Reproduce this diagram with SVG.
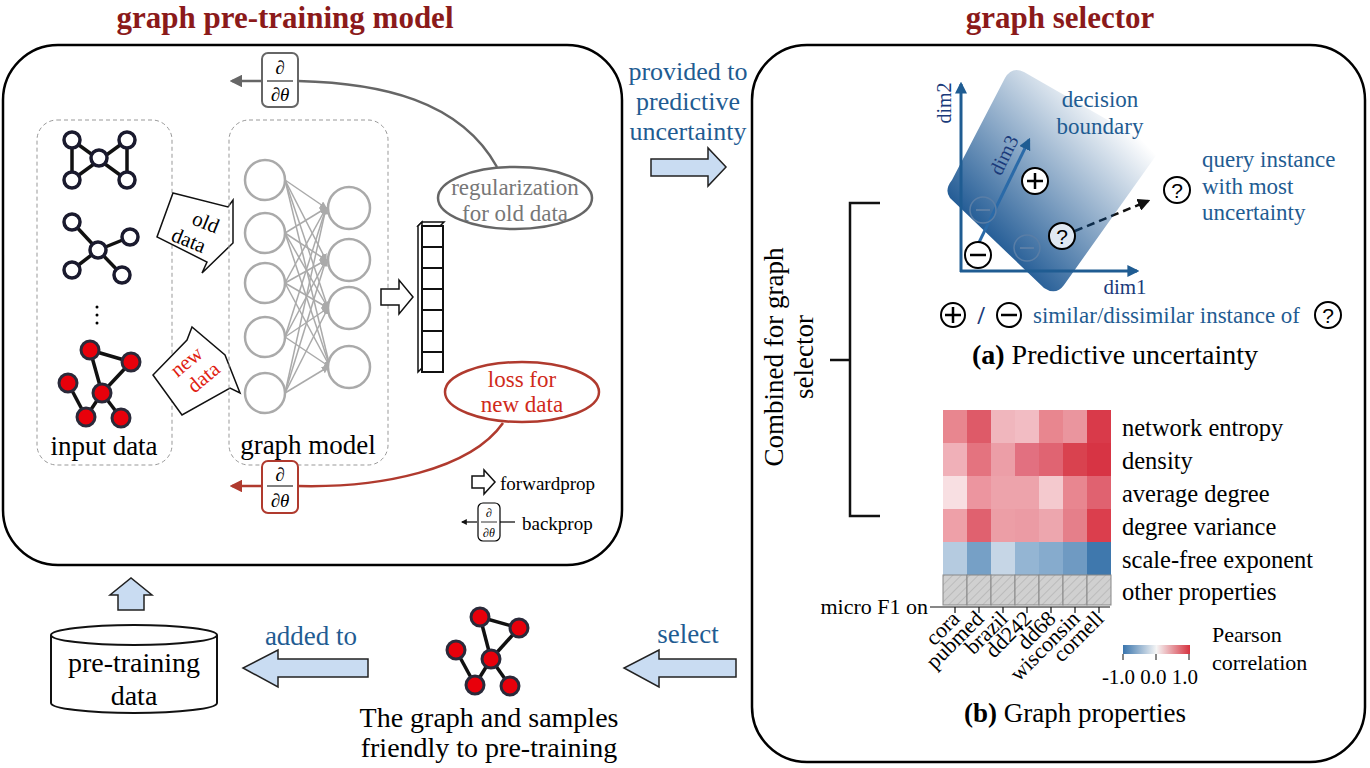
<svg xmlns="http://www.w3.org/2000/svg" width="1370" height="768" viewBox="0 0 1370 768" font-family="'Liberation Serif','Times New Roman',serif">
<defs>
<style>
text{font-family:"Liberation Serif","Times New Roman",serif}
.t{font-size:31px;font-weight:bold;fill:#8b1a1a;text-anchor:middle}
.b{fill:#1f5c92}
.nk{fill:#fff;stroke:#1a1a2e;stroke-width:3.5}
.nr{fill:#e8000b;stroke:#2a2a3a;stroke-width:3}
.ek{stroke:#111;stroke-width:3.5}
.nn{fill:#fff;stroke:#aaa;stroke-width:2.5}
.la{fill:#c9dcf2;stroke:#222;stroke-width:1.5}
.cell{stroke:#111;stroke-width:2;fill:#fff}
.sm{fill:#fff;stroke:#000;stroke-width:2}
.q{font-family:"Liberation Sans",Arial,sans-serif;font-size:21px;text-anchor:middle}
</style>
<marker id="ag" viewBox="0 0 10 10" refX="8" refY="5" markerWidth="5" markerHeight="5" orient="auto"><path d="M0,0L10,5L0,10z" fill="#aaa"/></marker>
<marker id="agd" viewBox="0 0 10 10" refX="8" refY="5" markerWidth="5" markerHeight="5" orient="auto"><path d="M0,0L10,5L0,10z" fill="#666"/></marker>
<marker id="ar" viewBox="0 0 10 10" refX="8" refY="5" markerWidth="5" markerHeight="5" orient="auto"><path d="M0,0L10,5L0,10z" fill="#b03a2e"/></marker>
<marker id="ak" viewBox="0 0 10 10" refX="8" refY="5" markerWidth="5" markerHeight="5" orient="auto"><path d="M0,0L10,5L0,10z" fill="#111"/></marker>
<marker id="ab" viewBox="0 0 10 10" refX="8" refY="5" markerWidth="4" markerHeight="4" orient="auto"><path d="M0,0L10,5L0,10z" fill="#1f5c92"/></marker>
<linearGradient id="dg" x1="0" y1="1" x2="1" y2="0"><stop offset="0.15" stop-color="#0b4a8a"/><stop offset="0.8" stop-color="#0b4a8a" stop-opacity="0"/></linearGradient>
<linearGradient id="cb"><stop offset="0" stop-color="#3a75ad"/><stop offset="0.5" stop-color="#f5f5f5"/><stop offset="1" stop-color="#d6323f"/></linearGradient>
<pattern id="hat" width="6" height="6" patternUnits="userSpaceOnUse" patternTransform="rotate(45)"><rect width="6" height="6" fill="#d0d0d0"/><line x1="0" y1="0" x2="0" y2="6" stroke="#bbb" stroke-width="2"/></pattern>
</defs>

<text class="t" x="285" y="28">graph pre-training model</text>
<text class="t" x="1060" y="28">graph selector</text>

<g id="panel-left"><rect x="3" y="45" width="619" height="520" rx="55" fill="none" stroke="#000" stroke-width="2.5"/></g>
<g id="panel-right"><rect x="752" y="45" width="613" height="717" rx="55" fill="none" stroke="#000" stroke-width="2.5"/></g>

<g id="input-data">
<rect x="37" y="120" width="135" height="345" rx="20" fill="none" stroke="#999" stroke-dasharray="4,3"/>
<line class="ek" x1="72" y1="140" x2="72" y2="180"/><line class="ek" x1="127" y1="140" x2="127" y2="180"/>
<line class="ek" x1="72" y1="140" x2="127" y2="180"/><line class="ek" x1="127" y1="140" x2="72" y2="180"/>
<circle class="nk" cx="72" cy="140" r="8"/><circle class="nk" cx="127" cy="140" r="8"/><circle class="nk" cx="99" cy="158" r="8"/><circle class="nk" cx="72" cy="180" r="8"/><circle class="nk" cx="127" cy="180" r="8"/>
<line class="ek" x1="98" y1="250" x2="72" y2="222"/><line class="ek" x1="98" y1="250" x2="130" y2="237"/><line class="ek" x1="98" y1="250" x2="72" y2="270"/><line class="ek" x1="98" y1="250" x2="122" y2="275"/>
<circle class="nk" cx="72" cy="222" r="8"/><circle class="nk" cx="130" cy="237" r="8"/><circle class="nk" cx="98" cy="250" r="8"/><circle class="nk" cx="72" cy="270" r="8"/><circle class="nk" cx="122" cy="275" r="8"/>
<circle cx="97" cy="307" r="1.5"/><circle cx="97" cy="315" r="1.5"/><circle cx="97" cy="323" r="1.5"/>
<g class="ek"><line x1="90" y1="350" x2="131" y2="362"/><line x1="90" y1="350" x2="102" y2="393"/><line x1="131" y1="362" x2="102" y2="393"/><line x1="68" y1="383" x2="86" y2="417"/><line x1="86" y1="417" x2="102" y2="393"/><line x1="102" y1="393" x2="121" y2="418"/></g>
<circle class="nr" cx="90" cy="350" r="9"/><circle class="nr" cx="131" cy="362" r="9"/><circle class="nr" cx="68" cy="383" r="9"/><circle class="nr" cx="102" cy="393" r="9"/><circle class="nr" cx="86" cy="417" r="9"/><circle class="nr" cx="121" cy="418" r="9"/>
<text x="104" y="455" font-size="27" text-anchor="middle">input data</text>
</g>

<g id="data-arrows">
<polygon points="173,193 228,207 233,200 233,243 202,273 207,262 157,237" fill="#fff" stroke="#111" stroke-width="1.5"/>
<text font-size="21" text-anchor="middle" transform="rotate(22 195 233)"><tspan x="201" y="226">old</tspan><tspan x="192" y="249">data</tspan></text>
<polygon points="153,375 187,340 192,327 225,355 240,393 230,388 182,415" fill="#fff" stroke="#111" stroke-width="1.5"/>
<text font-size="21" fill="#e02010" text-anchor="middle" transform="rotate(-40 196 373)"><tspan x="196" y="365">new</tspan><tspan x="199" y="388">data</tspan></text>
</g>

<g id="graph-model">
<rect x="229" y="120" width="159" height="345" rx="20" fill="none" stroke="#999" stroke-dasharray="4,3"/>
<g stroke="#aaa" stroke-width="1.5" marker-end="url(#ag)">
<line x1="285" y1="180" x2="326" y2="208"/><line x1="285" y1="180" x2="326" y2="260"/><line x1="285" y1="180" x2="328" y2="308"/><line x1="285" y1="180" x2="330" y2="367"/>
<line x1="285" y1="233" x2="326" y2="208"/><line x1="285" y1="233" x2="326" y2="260"/><line x1="285" y1="233" x2="328" y2="308"/><line x1="285" y1="233" x2="330" y2="367"/>
<line x1="285" y1="283" x2="326" y2="208"/><line x1="285" y1="283" x2="326" y2="260"/><line x1="285" y1="283" x2="328" y2="308"/><line x1="285" y1="283" x2="330" y2="367"/>
<line x1="285" y1="337" x2="326" y2="208"/><line x1="285" y1="337" x2="326" y2="260"/><line x1="285" y1="337" x2="328" y2="308"/><line x1="285" y1="337" x2="330" y2="367"/>
<line x1="285" y1="393" x2="326" y2="208"/><line x1="285" y1="393" x2="326" y2="260"/><line x1="285" y1="393" x2="328" y2="308"/><line x1="285" y1="393" x2="328" y2="367"/>
</g>
<circle class="nn" cx="265" cy="180" r="20"/><circle class="nn" cx="265" cy="233" r="20"/><circle class="nn" cx="265" cy="283" r="20"/><circle class="nn" cx="265" cy="337" r="20"/><circle class="nn" cx="265" cy="393" r="20"/>
<circle class="nn" cx="349" cy="208" r="21"/><circle class="nn" cx="349" cy="260" r="21"/><circle class="nn" cx="349" cy="308" r="21"/><circle class="nn" cx="349" cy="367" r="21"/>
<text x="308" y="454" font-size="27" text-anchor="middle">graph model</text>
</g>

<g id="output-vector">
<polygon points="381,289 399,289 399,280 413,297 399,314 399,305 381,305" fill="#fff" stroke="#111" stroke-width="1.5"/>
<polygon points="418,226 422,222 444,222 440,226" fill="#fff" stroke="#111" stroke-width="1.5"/>
<polygon points="418,226 422,222 422,368 418,372" fill="#fff" stroke="#111" stroke-width="1.5"/>
<rect class="cell" x="422" y="226" width="21" height="21"/><rect class="cell" x="422" y="247" width="21" height="21"/><rect class="cell" x="422" y="268" width="21" height="21"/><rect class="cell" x="422" y="289" width="21" height="21"/><rect class="cell" x="422" y="310" width="21" height="21"/><rect class="cell" x="422" y="331" width="21" height="21"/><rect class="cell" x="422" y="352" width="21" height="20"/>
</g>

<g id="connectors">
<path d="M497,167 C460,100 380,83 298,81" fill="none" stroke="#666" stroke-width="2.5"/>
<line x1="262" y1="81" x2="232" y2="81" stroke="#666" stroke-width="2.5" marker-end="url(#agd)"/>
<path d="M503,423 C470,470 380,488 298,486" fill="none" stroke="#b03a2e" stroke-width="2.5"/>
<line x1="262" y1="486" x2="232" y2="486" stroke="#b03a2e" stroke-width="2.5" marker-end="url(#ar)"/>
<path d="M1075,231 L1148,201" fill="none" stroke="#111" stroke-width="2.5" stroke-dasharray="8,5" marker-end="url(#ak)"/>
</g>

<g id="grad-old">
<rect x="262" y="53" width="36" height="54" rx="6" fill="#fff" stroke="#666" stroke-width="2"/>
<text x="280" y="74" font-size="19" text-anchor="middle" font-style="italic">∂</text>
<line x1="267" y1="81" x2="293" y2="81" stroke="#000" stroke-width="1"/>
<text x="280" y="101" font-size="19" text-anchor="middle" font-style="italic">∂θ</text>
</g>
<g id="grad-new">
<rect x="262" y="461" width="36" height="52" rx="6" fill="#fff" stroke="#b03a2e" stroke-width="2"/>
<text x="280" y="481" font-size="19" text-anchor="middle" font-style="italic">∂</text>
<line x1="267" y1="486" x2="293" y2="486" stroke="#000" stroke-width="1"/>
<text x="280" y="507" font-size="19" text-anchor="middle" font-style="italic">∂θ</text>
</g>

<g id="regularization">
<ellipse cx="515" cy="198" rx="77" ry="31" fill="#fff" stroke="#666" stroke-width="2.5"/>
<text x="515" y="195" font-size="23" fill="#777" text-anchor="middle">regularization</text>
<text x="515" y="221" font-size="23" fill="#777" text-anchor="middle">for old data</text>
</g>
<g id="loss">
<ellipse cx="522" cy="392" rx="77" ry="30" fill="#fff" stroke="#b03a2e" stroke-width="2.5"/>
<text x="522" y="387" font-size="23" fill="#d02a1a" text-anchor="middle">loss for</text>
<text x="522" y="412" font-size="23" fill="#d02a1a" text-anchor="middle">new data</text>
</g>

<g id="legend">
<polygon points="472,476 484,476 484,470 495,482 484,494 484,488 472,488" fill="#fff" stroke="#111" stroke-width="1.5"/>
<text x="500" y="490" font-size="19">forwardprop</text>
<line x1="500" y1="522" x2="515" y2="522" stroke="#000" stroke-width="1.2"/>
<line x1="477" y1="522" x2="462" y2="522" stroke="#000" stroke-width="1.2" marker-end="url(#ak)"/>
<rect x="478" y="503" width="22" height="38" rx="5" fill="#fff" stroke="#000" stroke-width="1.2"/>
<text x="489" y="517" font-size="12" text-anchor="middle" font-style="italic">∂</text>
<line x1="481" y1="522" x2="497" y2="522" stroke="#000" stroke-width="0.8"/>
<text x="489" y="537" font-size="12" text-anchor="middle" font-style="italic">∂θ</text>
<text x="522" y="530" font-size="19">backprop</text>
</g>

<g id="provided-to">
<text x="688" y="80" font-size="26" class="b" text-anchor="middle">provided to</text>
<text x="688" y="110" font-size="26" class="b" text-anchor="middle">predictive</text>
<text x="688" y="140" font-size="26" class="b" text-anchor="middle">uncertainty</text>
<polygon points="651,159 708,159 708,148 726,167 708,186 708,176 651,176" class="la"/>
</g>

<g id="pretraining-data">
<polygon points="118,610 118,595 110,595 131,578 152,595 144,595 144,610" class="la"/>
<path d="M51,635 L51,703 A83,10 0 0 0 217,703 L217,635" fill="#fff" stroke="#111" stroke-width="2"/>
<ellipse cx="134" cy="635" rx="83" ry="10" fill="#fff" stroke="#111" stroke-width="2"/>
<text x="134" y="672" font-size="28" text-anchor="middle">pre-training</text>
<text x="134" y="705" font-size="28" text-anchor="middle">data</text>
</g>

<g id="added-to">
<text x="311" y="645" font-size="27" class="b" text-anchor="middle">added to</text>
<polygon points="368,659 278,659 278,650 243,668 278,687 278,677 368,677" class="la"/>
</g>

<g id="selected-graph">
<g class="ek"><line x1="480" y1="617" x2="519" y2="628"/><line x1="480" y1="617" x2="491" y2="659"/><line x1="519" y1="628" x2="491" y2="659"/><line x1="456" y1="650" x2="475" y2="685"/><line x1="475" y1="685" x2="491" y2="659"/><line x1="491" y1="659" x2="510" y2="686"/></g>
<circle class="nr" cx="480" cy="617" r="9"/><circle class="nr" cx="519" cy="628" r="9"/><circle class="nr" cx="456" cy="650" r="9"/><circle class="nr" cx="491" cy="659" r="9"/><circle class="nr" cx="475" cy="685" r="9"/><circle class="nr" cx="510" cy="686" r="9"/>
</g>
<text x="489" y="727" font-size="28" text-anchor="middle">The graph and samples</text>
<text x="489" y="757" font-size="28" text-anchor="middle">friendly to pre-training</text>

<g id="select">
<text x="688" y="643" font-size="27" class="b" text-anchor="middle">select</text>
<polygon points="736,659 659,659 659,650 624,668 659,687 659,677 736,677" class="la"/>
</g>

<g id="combined">
<text transform="translate(783,357) rotate(-90)" font-size="27" text-anchor="middle">Combined for graph</text>
<text transform="translate(813,357) rotate(-90)" font-size="27" text-anchor="middle">selector</text>
<path d="M880,203 L850,203 L850,516 L880,516 M850,360 L830,360" fill="none" stroke="#111" stroke-width="2.5"/>
</g>

<g id="uncertainty-plot">
<path d="M952,180 L1005,78 Q1012,66 1024,72 L1160,150 L1064,285 Q1056,296 1044,288 L950,198 Q944,190 952,180z" fill="url(#dg)"/>
<line x1="961" y1="272" x2="961" y2="84" stroke="#1f5c92" stroke-width="3" marker-end="url(#ab)"/>
<line x1="960" y1="271" x2="1137" y2="271" stroke="#1f5c92" stroke-width="3" marker-end="url(#ab)"/>
<line x1="968" y1="265" x2="1029" y2="140" stroke="#2a6aa8" stroke-width="3" marker-end="url(#ab)"/>
<text transform="translate(951,103) rotate(-90)" font-size="20" fill="#1a3a7a" text-anchor="middle">dim2</text>
<text transform="translate(1010,158) rotate(-64)" font-size="20" fill="#1a3a7a" text-anchor="middle">dim3</text>
<text x="1125" y="294" font-size="21" fill="#1a3a7a" text-anchor="middle">dim1</text>
<circle cx="983" cy="210" r="13" fill="none" stroke="#5a7ea6" stroke-width="1.5"/><line x1="976" y1="210" x2="990" y2="210" stroke="#5a7ea6" stroke-width="2"/>
<circle cx="1027" cy="248" r="13" fill="none" stroke="#5a7ea6" stroke-width="1.5"/><line x1="1020" y1="248" x2="1034" y2="248" stroke="#5a7ea6" stroke-width="2"/>
<circle class="sm" cx="1035" cy="181" r="13"/><path d="M1027,181 H1043 M1035,173 V189" stroke="#000" stroke-width="2.5"/>
<circle class="sm" cx="978" cy="255" r="13"/><path d="M970,255 H986" stroke="#000" stroke-width="2.5"/>
<circle cx="1062" cy="236" r="13" fill="#e0e8f2" stroke="#000" stroke-width="2"/><text x="1062" y="244" class="q">?</text>
<circle class="sm" cx="1177" cy="190" r="13"/><text x="1177" y="198" class="q">?</text>
<text x="1100" y="107" font-size="23" class="b" text-anchor="middle">decision</text>
<text x="1100" y="134" font-size="23" class="b" text-anchor="middle">boundary</text>
<text x="1202" y="167" font-size="23" class="b">query instance</text>
<text x="1202" y="194" font-size="23" class="b">with most</text>
<text x="1202" y="220" font-size="23" class="b">uncertainty</text>
<circle class="sm" cx="953" cy="315" r="12"/><path d="M945,315 H961 M953,307 V323" stroke="#000" stroke-width="2.5"/>
<text x="981" y="324" font-size="26" fill="#1a3a7a" text-anchor="middle" font-weight="bold">/</text>
<circle class="sm" cx="1009" cy="315" r="12"/><path d="M1001,315 H1017" stroke="#000" stroke-width="2.5"/>
<text x="1033" y="323" font-size="23" class="b">similar/dissimilar instance of</text>
<circle class="sm" cx="1328" cy="315" r="13"/><text x="1328" y="323" class="q">?</text>
<text x="1115" y="364" font-size="28" text-anchor="middle"><tspan font-weight="bold">(a)</tspan> Predictive uncertainty</text>
</g>

<g id="heatmap">
<g>
<rect x="943" y="410" width="24" height="33" fill="#e8868f"/><rect x="967" y="410" width="24" height="33" fill="#de5a68"/><rect x="991" y="410" width="24" height="33" fill="#f0b6bd"/><rect x="1015" y="410" width="24" height="33" fill="#f2bcc3"/><rect x="1039" y="410" width="24" height="33" fill="#e8868f"/><rect x="1063" y="410" width="24" height="33" fill="#ea959e"/><rect x="1087" y="410" width="24" height="33" fill="#d93a4a"/>
<rect x="943" y="443" width="24" height="33" fill="#f0b0b8"/><rect x="967" y="443" width="24" height="33" fill="#e4737f"/><rect x="991" y="443" width="24" height="33" fill="#ec9ea7"/><rect x="1015" y="443" width="24" height="33" fill="#e27080"/><rect x="1039" y="443" width="24" height="33" fill="#e06472"/><rect x="1063" y="443" width="24" height="33" fill="#d9424f"/><rect x="1087" y="443" width="24" height="33" fill="#d73444"/>
<rect x="943" y="476" width="24" height="33" fill="#f8dfe2"/><rect x="967" y="476" width="24" height="33" fill="#ec959f"/><rect x="991" y="476" width="24" height="33" fill="#eda3ab"/><rect x="1015" y="476" width="24" height="33" fill="#eda3ab"/><rect x="1039" y="476" width="24" height="33" fill="#f4c9ce"/><rect x="1063" y="476" width="24" height="33" fill="#e88690"/><rect x="1087" y="476" width="24" height="33" fill="#e06270"/>
<rect x="943" y="509" width="24" height="33" fill="#eea0a8"/><rect x="967" y="509" width="24" height="33" fill="#e0616f"/><rect x="991" y="509" width="24" height="33" fill="#ec9ea6"/><rect x="1015" y="509" width="24" height="33" fill="#eb9ba4"/><rect x="1039" y="509" width="24" height="33" fill="#eda6ae"/><rect x="1063" y="509" width="24" height="33" fill="#e57f8a"/><rect x="1087" y="509" width="24" height="33" fill="#db3e4d"/>
<rect x="943" y="542" width="24" height="33" fill="#b5cbe0"/><rect x="967" y="542" width="24" height="33" fill="#76a0c6"/><rect x="991" y="542" width="24" height="33" fill="#c6d6e6"/><rect x="1015" y="542" width="24" height="33" fill="#94b5d3"/><rect x="1039" y="542" width="24" height="33" fill="#86abcd"/><rect x="1063" y="542" width="24" height="33" fill="#6f9ac2"/><rect x="1087" y="542" width="24" height="33" fill="#3f78ad"/>
</g>
<g fill="url(#hat)" stroke="#888" stroke-width="1">
<rect x="943" y="575" width="24" height="30"/><rect x="967" y="575" width="24" height="30"/><rect x="991" y="575" width="24" height="30"/><rect x="1015" y="575" width="24" height="30"/><rect x="1039" y="575" width="24" height="30"/><rect x="1063" y="575" width="24" height="30"/><rect x="1087" y="575" width="24" height="30"/>
</g>
<g font-size="24.5">
<text x="1122" y="436">network entropy</text><text x="1122" y="469">density</text><text x="1122" y="502">average degree</text><text x="1122" y="535">degree variance</text><text x="1122" y="568">scale-free exponent</text><text x="1122" y="600">other properties</text>
</g>
<text x="928" y="614" font-size="22" text-anchor="end">micro F1 on</text>
<path d="M930,607 H1110 M955,607 V613 M979,607 V613 M1003,607 V613 M1027,607 V613 M1051,607 V613 M1075,607 V613 M1099,607 V613" stroke="#111" stroke-width="1.2" fill="none"/>
<g font-size="22" text-anchor="end">
<text transform="translate(961,620) rotate(-45)">cora</text>
<text transform="translate(985,620) rotate(-45)">pubmed</text>
<text transform="translate(1009,620) rotate(-45)">brazil</text>
<text transform="translate(1033,620) rotate(-45)">dd242</text>
<text transform="translate(1057,620) rotate(-45)">dd68</text>
<text transform="translate(1081,620) rotate(-45)">wisconsin</text>
<text transform="translate(1105,620) rotate(-45)">cornell</text>
</g>
<rect x="1123" y="645" width="67" height="9" fill="url(#cb)"/>
<path d="M1123,654 V660 M1156,654 V660 M1189,654 V660" stroke="#111" stroke-width="1"/>
<text x="1150" y="684" font-size="21" text-anchor="middle">-1.0 0.0 1.0</text>
<text x="1212" y="642" font-size="22">Pearson</text>
<text x="1212" y="670" font-size="22">correlation</text>
<text x="1075" y="722" font-size="27" text-anchor="middle"><tspan font-weight="bold">(b)</tspan> Graph properties</text>
</g>
</svg>
